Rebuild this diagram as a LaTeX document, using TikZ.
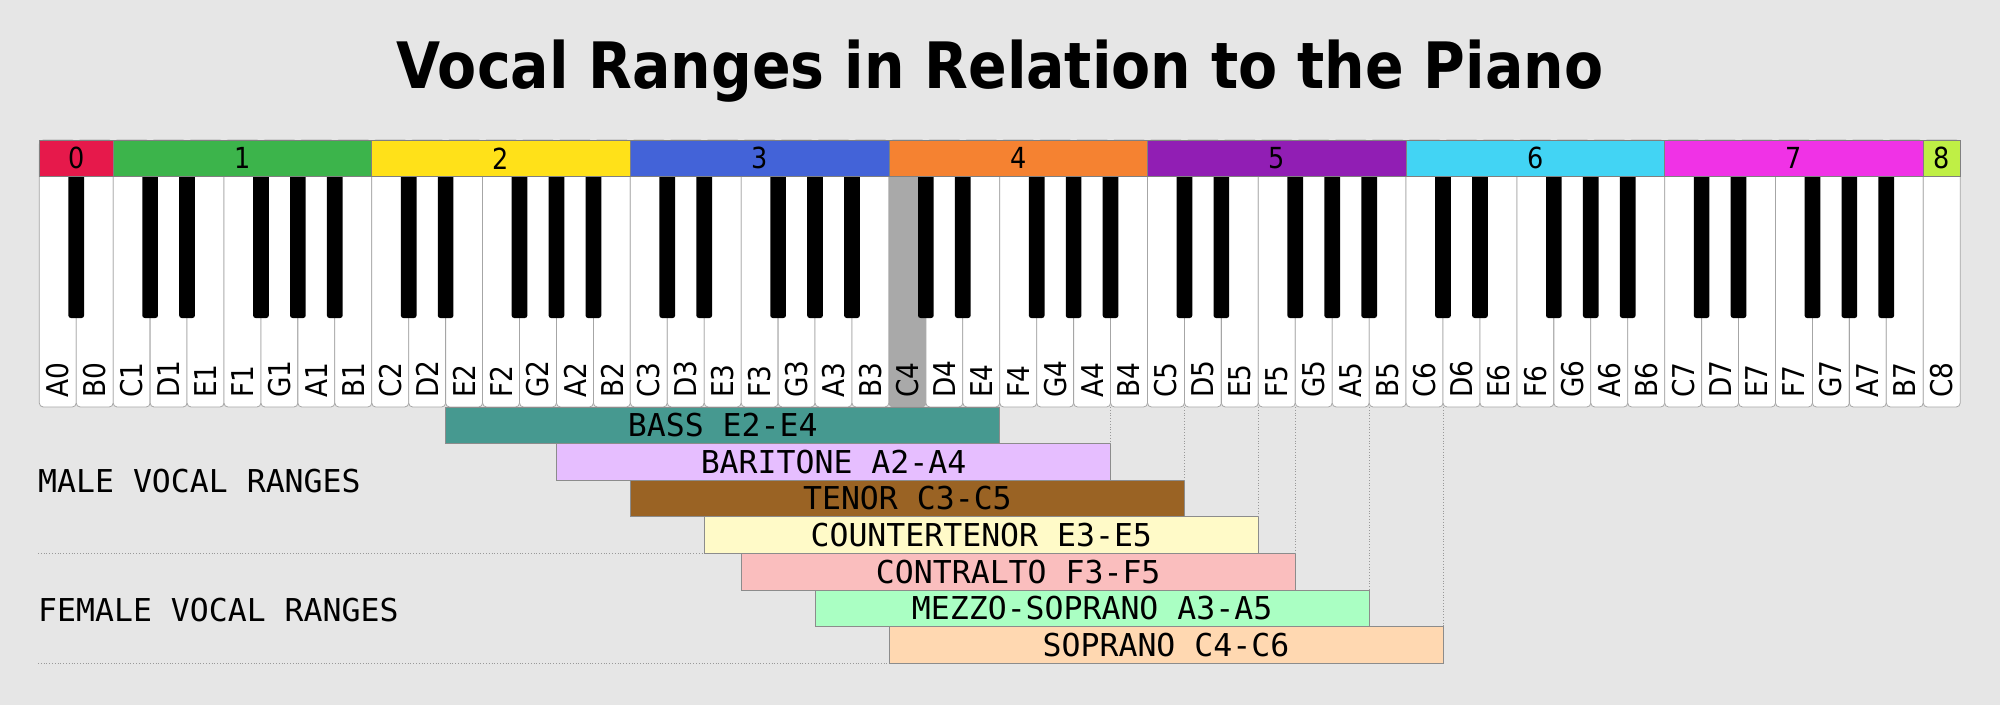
\documentclass[tikz,border=0pt]{standalone}
\usepackage{fontspec}
\usepackage{xcolor}
\usepackage{tikz}
\usetikzlibrary{positioning,calc}
\newfontfamily\titlefont{DejaVu Sans}[FakeStretch=0.89]
\newfontfamily\keyfont{DejaVu Sans}[FakeStretch=0.88]
\newfontfamily\rangefont{DejaVu Sans Mono}
\definecolor{Bg}{RGB}{230,230,230}
\definecolor{Kgray}{HTML}{A9A9A9}
\definecolor{O0}{HTML}{E6194B}
\definecolor{O1}{HTML}{3CB44B}
\definecolor{O2}{HTML}{FFE119}
\definecolor{O3}{HTML}{4363D8}
\definecolor{O4}{HTML}{F58231}
\definecolor{O5}{HTML}{911EB4}
\definecolor{O6}{HTML}{42D4F4}
\definecolor{O7}{HTML}{F032E6}
\definecolor{O8}{HTML}{BFEF45}
\definecolor{bass}{HTML}{469990}
\definecolor{baritone}{HTML}{E6BEFF}
\definecolor{tenor}{HTML}{9A6324}
\definecolor{countertenor}{HTML}{FFFAC8}
\definecolor{contralto}{HTML}{FABEBE}
\definecolor{mezzo}{HTML}{AAFFC3}
\definecolor{soprano}{HTML}{FFD8B1}

\begin{document}
\begin{tikzpicture}[x=1pt,y=-1pt,
    whitekey/.style={draw=black!35,line width=0.8pt,rounded corners=4pt,
      minimum width=36.94pt,minimum height=267pt,inner sep=0pt,outer sep=0pt},
    blackkey/.style={fill=black,rounded corners=2.5pt,minimum width=15.7pt,
      minimum height=178pt,inner sep=0pt,outer sep=0pt,anchor=north},
    keylabel/.style={font=\keyfont\fontsize{30}{30}\selectfont,rotate=90,
      anchor=west,inner sep=0pt},
    octbar/.style={draw=black!50,line width=0.6pt,minimum height=36.7pt,
      inner sep=0pt,outer sep=0pt,anchor=north west,
      font=\keyfont\fontsize{29}{29}\selectfont},
    rangebar/.style={draw=black!45,line width=0.8pt,minimum height=36.6pt,
      inner sep=0pt,outer sep=0pt,anchor=north west,
      font=\rangefont\fontsize{31.5}{31.5}\selectfont},
    grouplabel/.style={font=\rangefont\fontsize{31.5}{31.5}\selectfont,
      anchor=west,inner sep=0pt},
    guide/.style={draw=black!40,dotted,line width=0.8pt}]
  \fill[Bg] (0,0) rectangle (2000,705);
  \useasboundingbox (0,0) rectangle (2000,705);

  \node[font=\titlefont\bfseries\fontsize{64}{64}\selectfont,anchor=base,
    inner sep=0pt] (title) at (1000,88.3) {Vocal Ranges in Relation to the Piano};

  % white keys, A0 ... C8
  \foreach \i in {0,...,51}{
    \pgfmathtruncatemacro\m{mod(\i,7)}
    \pgfmathtruncatemacro\o{(\i+5)/7}
    \edef\nm{\ifcase\m A\or B\or C\or D\or E\or F\or G\fi\o}
    \ifnum\i=23 \def\kf{Kgray}\else\def\kf{white}\fi
    \node[whitekey,fill=\kf] (\nm) at ({39.3+(\i+0.5)*36.94},273.5) {};
    \node[keylabel] (l\nm) at ([yshift=9pt]\nm.south) {\nm};
  }
  % black keys
  \foreach \i in {0,...,50}{
    \pgfmathtruncatemacro\m{mod(\i,7)}
    \pgfmathtruncatemacro\o{(\i+5)/7}
    \edef\nm{\ifcase\m A\or B\or C\or D\or E\or F\or G\fi\o}
    \ifnum\m=1 \else\ifnum\m=4 \else
      \node[blackkey] (\nm s) at (\nm.north east) {};
    \fi\fi
  }
  % octave strip
  \foreach \o/\first/\n in {0/A0/2,1/C1/7,2/C2/7,3/C3/7,4/C4/7,5/C5/7,6/C6/7,7/C7/7,8/C8/1}
    \node[octbar,fill=O\o,minimum width=\n*36.94pt] (oct\o) at (\first.north west) {\o};

  % vocal ranges
  \foreach \nm/\lo/\hi/\txt [count=\k from 0] in {
      bass/E2/E4/{BASS E2-E4},
      baritone/A2/A4/{BARITONE A2-A4},
      tenor/C3/C5/{TENOR C3-C5},
      countertenor/E3/E5/{COUNTERTENOR E3-E5},
      contralto/F3/F5/{CONTRALTO F3-F5},
      mezzo/A3/A5/{MEZZO-SOPRANO A3-A5},
      soprano/C4/C6/{SOPRANO C4-C6}}{
    \path let \p1=(\lo.south west), \p2=(\hi.south east) in
      node[rangebar,fill=\nm,minimum width=\x2-\x1] (\nm) at (\x1,{\y1-\k*36.6pt}) {\txt};
    \ifnum\k>0 \draw[guide] (\hi.south east) -- (\nm.north east);\fi
  }

  \node[grouplabel] (male) at (38,481) {MALE VOCAL RANGES};
  \node[grouplabel] (female) at (38,610) {FEMALE VOCAL RANGES};
  \coordinate (malesep) at (male.west |- countertenor.south);
  \coordinate (femalesep) at (female.west |- soprano.south);
  \draw[guide] (malesep) -- (countertenor.south west);
  \draw[guide] (femalesep) -- (soprano.south west);
\end{tikzpicture}
\end{document}
